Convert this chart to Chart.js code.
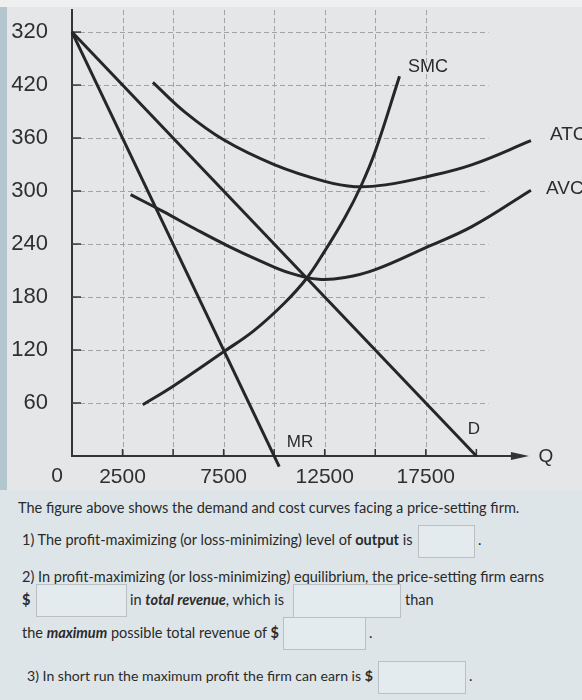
<!DOCTYPE html>
<html>
<head>
<meta charset="utf-8">
<script src="https://cdn.jsdelivr.net/npm/chart.js@4.4.1/dist/chart.umd.min.js"></script>
<style>
  html, body { margin: 0; padding: 0; }
  body { width: 582px; height: 700px; background: #dde5e8; position: relative; overflow: hidden; font-family: Lato, "Open Sans", sans-serif; color: #2a2a2a; }
  #panel { position: absolute; left: 0; top: 0; width: 582px; height: 490px; background: #e5e6e8; }
  #panel .edge { position: absolute; left: 0; top: 7px; width: 7px; height: 483px; background: #b3c6cd; }
  #panel .topstrip { position: absolute; left: 0; top: 0; width: 582px; height: 7px; background: #efefef; }
  #chart { position: absolute; left: 0; top: 0; }
  .q { position: absolute; font-size: 14.5px; white-space: nowrap; }
  .box { position: absolute; border: 1px solid #b9bfc2; background: #e4ebee; }
</style>
</head>
<body>
<div id="panel"><div class="topstrip"></div><div class="edge"></div></div>
<canvas id="chart" width="582" height="490"></canvas>

<div class="q" style="left:18px; top:499px;">The figure above shows the demand and cost curves facing a price-setting firm.</div>
<div class="q" style="left:22px; top:531px;">1) The profit-maximizing (or loss-minimizing) level of <b>output</b> is</div>
<div class="box" style="left:418px; top:525px; width:55px; height:31px;"></div>
<div class="q" style="left:478px; top:531px;">.</div>
<div class="q" style="left:22px; top:568px;">2) In profit-maximizing (or loss-minimizing) equilibrium, the price-setting firm earns</div>
<div class="q" style="left:22px; top:591px;"><b>$</b></div>
<div class="box" style="left:36px; top:584px; width:89px; height:31px;"></div>
<div class="q" style="left:130px; top:591px;">in <b><i>total revenue</i></b>, which is</div>
<div class="box" style="left:293px; top:584px; width:106px; height:32px;"></div>
<div class="q" style="left:405px; top:591px;">than</div>
<div class="q" style="left:22px; top:624px;">the <b><i>maximum</i></b> possible total revenue of <b>$</b></div>
<div class="box" style="left:283px; top:617px; width:81px; height:31px;"></div>
<div class="q" style="left:369px; top:624px;">.</div>
<div class="q" style="left:27px; top:667px; font-size:14.1px;">3) In short run the maximum profit the firm can earn is <b>$</b></div>
<div class="box" style="left:378px; top:661px; width:86px; height:31px;"></div>
<div class="q" style="left:469px; top:667px;">.</div>

<script>
// ===== Data =====
const demandQ = [0, 20000];
const demandP = [480, 0];

const mrQ = [0, 10250];
const mrP = [480, -12];

const smcQ = [3500, 5000, 7500, 9000, 10500, 11600, 12500, 13500, 14300, 15000, 16200];
const smcP = [58, 79, 118, 142, 173, 201, 232, 270, 306, 345, 430];

const atcQ = [4000, 5600, 7500, 10000, 12500, 14000, 15500, 17500, 19800, 22700];
const atcP = [423, 389, 358, 330, 311, 305, 307, 316, 330, 357];

const avcQ = [2900, 4500, 6100, 7700, 9300, 10800, 12200, 13500, 15000, 17500, 19800, 22700];
const avcP = [296, 277, 257, 238, 221, 207, 200, 202, 211, 236, 260, 301];

// tick labels as printed (the top one really does say 320)
const yTickValues = [60, 120, 180, 240, 300, 360, 420, 480];
const yTickLabels = ['60', '120', '180', '240', '300', '360', '420', '320'];
const xTickValues = [2500, 7500, 12500, 17500];
const xTickLabels = ['2500', '7500', '12500', '17500'];
const xMinorTicks = [2500, 5000, 7500, 10000, 12500, 15000, 17500, 20000];
const xGridValues = [2500, 5000, 7500, 10000, 12500, 15000, 17500];

const INK = '#262626';
const AXIS_FONT = 'Helvetica, Arial, "Liberation Sans", sans-serif';

function pts(xs, ys) {
  return xs.map((x, i) => ({ x: x, y: ys[i] }));
}

function curve(label, xs, ys, smooth) {
  return {
    label: label,
    data: pts(xs, ys),
    borderColor: INK,
    borderWidth: 3,
    pointRadius: 0,
    fill: false,
    clip: false,
    tension: smooth ? 0.4 : 0
  };
}

// fixed box sizes so the plot area lands where the figure has it
function pinBox(size, key) {
  return s => {
    s[key] = size;
    s.paddingTop = 0; s.paddingBottom = 0;
    s.paddingLeft = 0; s.paddingRight = 0;
  };
}

// ===== Grid, inward ticks, axis arrow and curve labels =====
const figurePlugin = {
  id: 'figure',
  beforeDatasetsDraw(chart) {
    const { ctx, scales: { x, y } } = chart;
    const x0 = x.getPixelForValue(0);
    const y0 = y.getPixelForValue(0);
    ctx.save();
    ctx.strokeStyle = '#a3a3a6';
    ctx.lineWidth = 1;
    ctx.setLineDash([5, 3]);
    yTickValues.forEach(v => {
      const py = Math.round(y.getPixelForValue(v)) + 0.5;
      ctx.beginPath();
      ctx.moveTo(x0, py);
      ctx.lineTo(x.getPixelForValue(20600), py);
      ctx.stroke();
    });
    xGridValues.forEach(v => {
      const px = Math.round(x.getPixelForValue(v)) + 0.5;
      ctx.beginPath();
      ctx.moveTo(px, chart.chartArea.top);
      ctx.lineTo(px, y0);
      ctx.stroke();
    });
    ctx.setLineDash([]);

    // small ticks pointing into the plot
    ctx.strokeStyle = '#333';
    ctx.lineWidth = 1.5;
    yTickValues.forEach(v => {
      const py = y.getPixelForValue(v);
      ctx.beginPath();
      ctx.moveTo(x0, py);
      ctx.lineTo(x0 + 9, py);
      ctx.stroke();
    });
    xMinorTicks.forEach(v => {
      const px = x.getPixelForValue(v);
      ctx.beginPath();
      ctx.moveTo(px, y0);
      ctx.lineTo(px, y0 - 7);
      ctx.stroke();
    });

    // Q axis with arrow head
    const xEnd = x.getPixelForValue(22600);
    ctx.lineWidth = 2;
    ctx.beginPath();
    ctx.moveTo(x0, y0);
    ctx.lineTo(xEnd - 12, y0);
    ctx.stroke();
    ctx.fillStyle = '#333';
    ctx.beginPath();
    ctx.moveTo(xEnd, y0);
    ctx.lineTo(xEnd - 18, y0 - 4);
    ctx.lineTo(xEnd - 18, y0 + 4);
    ctx.closePath();
    ctx.fill();

    // the lone 0 below the origin
    ctx.fillStyle = '#2f2f2f';
    ctx.font = '21px ' + AXIS_FONT;
    ctx.textAlign = 'center';
    ctx.textBaseline = 'middle';
    ctx.fillText('0', x0 - 15, y0 + 20);
    ctx.restore();
  },
  afterDatasetsDraw(chart) {
    const { ctx } = chart;
    ctx.save();
    ctx.fillStyle = '#2c2c2c';
    ctx.textBaseline = 'middle';
    ctx.textAlign = 'center';
    ctx.font = '18px ' + AXIS_FONT;
    ctx.fillText('SMC', 428, 67);
    ctx.font = '17px ' + AXIS_FONT;
    ctx.fillText('MR', 300, 442);
    ctx.fillText('D', 474, 429);
    ctx.font = '19px ' + AXIS_FONT;
    ctx.fillText('Q', 546, 457);
    ctx.textAlign = 'left';
    ctx.fillText('ATC', 550, 135);
    ctx.fillText('AVC', 546, 189);
    ctx.restore();
  }
};

const chart = new Chart(document.getElementById('chart').getContext('2d'), {
  type: 'line',
  data: {
    datasets: [
      curve('D', demandQ, demandP, false),
      curve('MR', mrQ, mrP, false),
      curve('SMC', smcQ, smcP, true),
      curve('ATC', atcQ, atcP, true),
      curve('AVC', avcQ, avcP, true)
    ]
  },
  options: {
    responsive: false,
    animation: false,
    layout: { padding: { top: 10, right: 45, left: 0, bottom: 0 } },
    plugins: { legend: { display: false }, tooltip: { enabled: false } },
    scales: {
      x: {
        type: 'linear',
        min: 0,
        max: 23000,
        grid: { display: false, drawTicks: false },
        border: { display: false },
        afterBuildTicks: s => { s.ticks = xTickValues.map(v => ({ value: v })); },
        afterFit: pinBox(34, 'height'),
        ticks: {
          autoSkip: false,
          maxRotation: 0,
          padding: 9,
          color: '#2f2f2f',
          font: { size: 21, family: AXIS_FONT },
          callback: v => xTickLabels[xTickValues.indexOf(v)]
        }
      },
      y: {
        type: 'linear',
        min: 0,
        max: 505,
        grid: { display: false, drawTicks: false },
        border: { display: true, color: '#333', width: 2 },
        afterBuildTicks: s => { s.ticks = yTickValues.map(v => ({ value: v })); },
        afterFit: pinBox(72, 'width'),
        ticks: {
          autoSkip: false,
          padding: 24,
          color: '#2f2f2f',
          font: { size: 22, family: AXIS_FONT },
          callback: v => yTickLabels[yTickValues.indexOf(v)]
        }
      }
    }
  },
  plugins: [figurePlugin]
});
</script>
</body>
</html>
